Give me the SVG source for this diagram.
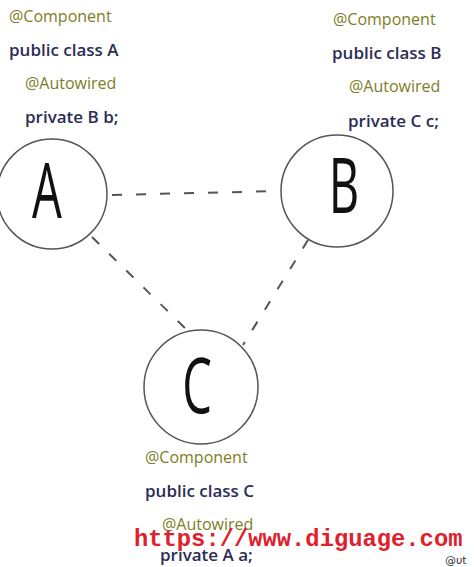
<svg xmlns="http://www.w3.org/2000/svg" width="474" height="567" viewBox="0 0 474 567">
<style>
.ann{font-family:"Open Sans","DejaVu Sans",sans-serif;font-size:16px;font-weight:500;fill:#7d7d26}
.code{font-family:"Open Sans","DejaVu Sans",sans-serif;font-size:17px;font-weight:600;fill:#2b2d55}
.node{fill:#fff;stroke:#555;stroke-width:1.5}
.lbl{font-family:"Open Sans","DejaVu Sans",sans-serif;font-size:76px;font-weight:500;fill:#111;text-anchor:middle}
.edge{stroke:#555;stroke-width:2;stroke-dasharray:10,14;fill:none}
</style>
<rect width="474" height="567" fill="#fff"/>
<g id="connectors">
<line class="edge" x1="112" y1="195" x2="279" y2="191"/>
<line class="edge" x1="92" y1="237" x2="187" y2="330"/>
<line class="edge" x1="308" y1="240" x2="243" y2="345"/>
</g>
<g id="nodeA">
<circle class="node" cx="52" cy="194" r="55"/>
<text class="lbl" transform="translate(47,218) scale(0.62,1)">A</text>
</g>
<g id="nodeB">
<circle class="node" cx="337" cy="191" r="56"/>
<text class="lbl" transform="translate(344,213) scale(0.62,1)">B</text>
</g>
<g id="nodeC">
<circle class="node" cx="201" cy="387" r="57"/>
<text class="lbl" transform="translate(197,413) scale(0.62,1)">C</text>
</g>
<g id="textA">
<text class="ann" x="9" y="22">@Component</text>
<text class="code" x="9" y="56">public class A</text>
<text class="ann" x="25" y="89">@Autowired</text>
<text class="code" x="25" y="123">private B b;</text>
</g>
<g id="textB">
<text class="ann" x="333" y="25">@Component</text>
<text class="code" x="332" y="59">public class B</text>
<text class="ann" x="349" y="92">@Autowired</text>
<text class="code" x="348" y="127">private C c;</text>
</g>
<g id="textC">
<text class="ann" x="145" y="463">@Component</text>
<text class="code" x="145" y="497">public class C</text>
<text class="ann" x="162" y="530">@Autowired</text>
<text class="code" x="160" y="561">private A a;</text>
</g>
<text x="134" y="546" style="font-family:'Liberation Mono','DejaVu Sans Mono',monospace;font-size:23.8px;font-weight:bold;fill:#e0202c">https://www.diguage.com</text>
<text x="445" y="564" style="font-family:'DejaVu Sans',sans-serif;font-size:11px;fill:#333">@υt</text>
</svg>
